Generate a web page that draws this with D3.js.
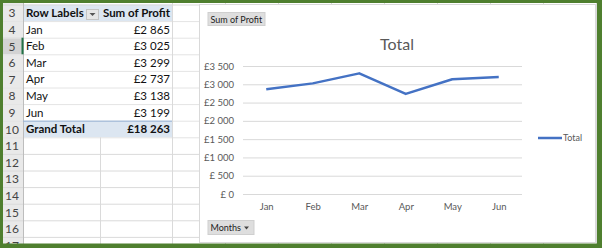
<!DOCTYPE html>
<html>
<head>
<meta charset="utf-8">
<script src="https://cdn.jsdelivr.net/npm/d3@7"></script>
<style>
  body { margin: 0; background: #fff; }
  text { font-family: Lato, "Open Sans", sans-serif; }
</style>
</head>
<body>
<div id="chart"></div>
<script>
// pivot data
const months = ["Jan", "Feb", "Mar", "Apr", "May", "Jun"];
const profit = [2865, 3025, 3299, 2737, 3138, 3199];
const yTicks = [0, 500, 1000, 1500, 2000, 2500, 3000, 3500];
const rowNumbers = [3, 4, 5, 6, 7, 8, 9, 10, 11, 12, 13, 14, 15, 16, 17];

const W = 602, H = 248;
const svg = d3.select("#chart").append("svg")
    .attr("width", W)
    .attr("height", H);

const grp = d3.format(",");
const money = v => "£" + (v < 1000 ? " " : "") + grp(v).replace(/,/g, " ");

// ---- sheet grid ----
const rowTop = 4.5, rowH = 16.6, hdrW = 23;
const colEdges = [hdrW, 100, 172, 225, 278, 331, 384, 437, 490, 543, 596];

svg.append("rect").attr("width", W).attr("height", H).attr("fill", "#fff");

const y0 = r => rowTop + (r - 3) * rowH;

// row header column
svg.append("rect").attr("x", 0).attr("y", 0).attr("width", hdrW).attr("height", H).attr("fill", "#e9e9e9");
svg.append("rect").attr("x", 0).attr("y", y0(5)).attr("width", hdrW).attr("height", rowH).attr("fill", "#d3d3d3");

// pivot header + total fill
svg.append("rect").attr("x", hdrW).attr("y", y0(3)).attr("width", 172 - hdrW).attr("height", rowH).attr("fill", "#dce6f1");
svg.append("rect").attr("x", hdrW).attr("y", y0(10)).attr("width", 172 - hdrW).attr("height", rowH).attr("fill", "#dce6f1");

// horizontal lines
svg.selectAll(".hl").data(rowNumbers.concat([18])).enter().append("line")
    .attr("x1", 0).attr("x2", W)
    .attr("y1", d => y0(d) + 0.5).attr("y2", d => y0(d) + 0.5)
    .attr("stroke", d => d <= 11 && d >= 4 ? "#e4e4e4" : "#dadada");
// vertical lines
svg.selectAll(".vl").data(colEdges).enter().append("line")
    .attr("x1", d => d + 0.5).attr("x2", d => d + 0.5)
    .attr("y1", d => d === 100 ? y0(11) : 0).attr("y2", H)
    .attr("stroke", d => d === hdrW ? "#bdbdbd" : "#dadada");
// grand total top border
svg.append("line").attr("x1", hdrW).attr("x2", 172).attr("y1", y0(10) + 0.5).attr("y2", y0(10) + 0.5)
    .attr("stroke", "#95b3d7");
// active row marker
svg.append("line").attr("x1", hdrW - 0.5).attr("x2", hdrW - 0.5).attr("y1", y0(5)).attr("y2", y0(6))
    .attr("stroke", "#217346").attr("stroke-width", 2);

// row numbers
svg.selectAll(".rn").data(rowNumbers).enter().append("text")
    .attr("x", 12).attr("y", d => y0(d) + rowH / 2 + 4.5)
    .attr("text-anchor", "middle").attr("font-size", 12).attr("fill", "#444")
    .text(d => d);

// pivot header
svg.append("text").attr("x", 26).attr("y", y0(3) + 12.5).attr("font-size", 11.5).attr("font-weight", "bold")
    .attr("fill", "#111").text("Row Labels");
svg.append("rect").attr("x", 86.5).attr("y", 9.5).attr("width", 12).attr("height", 10)
    .attr("fill", "#e6e6e6").attr("stroke", "#c4c4c4");
svg.append("path").attr("d", "M89.5,13 L95.5,13 L92.5,16 Z").attr("fill", "#555");
svg.append("text").attr("x", 170).attr("y", y0(3) + 12.5).attr("text-anchor", "end").attr("font-size", 11.5)
    .attr("font-weight", "bold").attr("fill", "#111").text("Sum of Profit");

// pivot rows
months.forEach((m, i) => {
  const yy = y0(4 + i) + 12.5;
  svg.append("text").attr("x", 26).attr("y", yy).attr("font-size", 11.5).attr("fill", "#111").text(m);
  svg.append("text").attr("x", 170).attr("y", yy).attr("text-anchor", "end").attr("font-size", 11.5)
      .attr("fill", "#111").text(money(profit[i]));
});
svg.append("text").attr("x", 26).attr("y", y0(10) + 12.5).attr("font-size", 11.5).attr("font-weight", "bold")
    .attr("fill", "#111").text("Grand Total");
svg.append("text").attr("x", 170).attr("y", y0(10) + 12.5).attr("text-anchor", "end").attr("font-size", 11.5)
    .attr("font-weight", "bold").attr("fill", "#111").text(money(d3.sum(profit)));

// ---- chart ----
const cx = 199, cy = 4, cw = 396, ch = 238;
svg.append("rect").attr("x", cx + 0.5).attr("y", cy + 0.5).attr("width", cw).attr("height", ch)
    .attr("fill", "#fff").attr("stroke", "#d9d9d9");

// field buttons
svg.append("rect").attr("x", 208).attr("y", 12.5).attr("width", 57).attr("height", 13)
    .attr("fill", "#dedede").attr("stroke", "#cfcfcf");
svg.append("text").attr("x", 210.5).attr("y", 22.5).attr("font-size", 9).attr("fill", "#222").text("Sum of Profit");
svg.append("rect").attr("x", 208).attr("y", 220.5).attr("width", 46).attr("height", 14)
    .attr("fill", "#dedede").attr("stroke", "#cfcfcf");
svg.append("text").attr("x", 210.5).attr("y", 231).attr("font-size", 9).attr("fill", "#222").text("Months");
svg.append("path").attr("d", "M244,226.5 L249,226.5 L246.5,229.5 Z").attr("fill", "#444");

svg.append("text").attr("x", 397).attr("y", 50).attr("text-anchor", "middle").attr("font-size", 16)
    .attr("fill", "#595959").text("Total");

const x = d3.scalePoint().domain(months).range([243, 522]).padding(0.5);
const y = d3.scaleLinear().domain([0, 3500]).range([194, 66]);

const gy = svg.append("g").attr("transform", "translate(243,0)")
    .call(d3.axisLeft(y).tickValues(yTicks).tickSize(-279).tickFormat(money).tickPadding(9));
gy.select(".domain").remove();
gy.selectAll("line").attr("stroke", "#d9d9d9");
gy.selectAll("text").attr("font-size", 9.5).attr("fill", "#595959").style("font-family", "Lato, sans-serif");

const gx = svg.append("g").attr("transform", "translate(0,194)")
    .call(d3.axisBottom(x).tickSize(0).tickPadding(9));
gx.select(".domain").remove();
gx.selectAll("text").attr("font-size", 9.5).attr("fill", "#595959").style("font-family", "Lato, sans-serif");

const line = d3.line().x((d, i) => x(months[i])).y(d => y(d));
svg.append("path").datum(profit).attr("d", line)
    .attr("fill", "none").attr("stroke", "#4472c4").attr("stroke-width", 2.5).attr("stroke-linejoin", "round");

// legend
svg.append("line").attr("x1", 538).attr("x2", 562).attr("y1", 138).attr("y2", 138)
    .attr("stroke", "#4472c4").attr("stroke-width", 2.5);
svg.append("text").attr("x", 563).attr("y", 141).attr("font-size", 9).attr("fill", "#595959").text("Total");

// green frame
svg.append("rect").attr("x", 1.5).attr("y", 1.5).attr("width", W - 4.5).attr("height", H - 4.5)
    .attr("fill", "none").attr("stroke", "#4f7f2f").attr("stroke-width", 3);
svg.append("rect").attr("x", 597).attr("y", 0).attr("width", 5).attr("height", H).attr("fill", "#4f7f2f");
svg.append("rect").attr("x", 0).attr("y", 245).attr("width", W).attr("height", 3).attr("fill", "#4f7f2f");
</script>
</body>
</html>
